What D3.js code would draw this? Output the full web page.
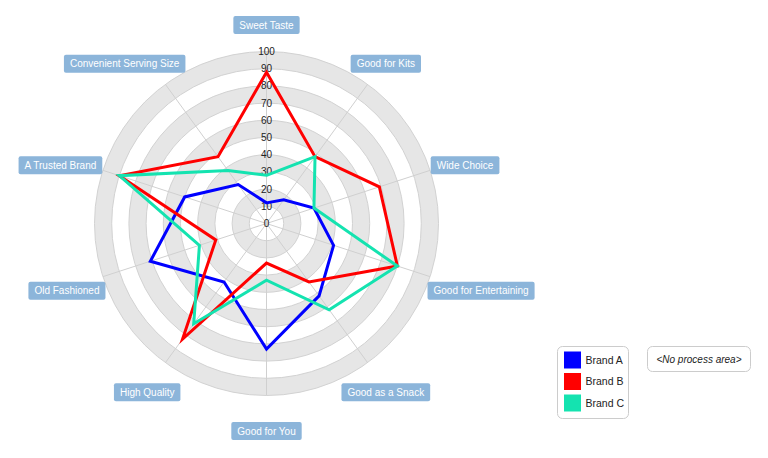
<!DOCTYPE html>
<html>
<head>
<meta charset="utf-8">
<script src="https://cdn.jsdelivr.net/npm/d3@7"></script>
<style>
  body { margin: 0; background: #fff; }
  text { font-family: "Liberation Sans", Arial, sans-serif; }
</style>
</head>
<body>
<div id="chart"></div>
<script>
// Datos del radar
var categorias = ["Sweet Taste", "Good for Kits", "Wide Choice", "Good for Entertaining", "Good as a Snack",
                  "Good for You", "High Quality", "Old Fashioned", "A Trusted Brand", "Convenient Serving Size"];
var marcas = ["Brand A", "Brand B", "Brand C"];
var brandA = [12, 17, 29, 41, 52, 73, 42, 71, 50, 28];
var brandB = [88, 48, 69, 80, 42, 23, 83, 31, 90, 48];
var brandC = [28, 48, 29, 80, 62, 33, 72, 41, 90, 38];
var ticks = [0, 10, 20, 30, 40, 50, 60, 70, 80, 90, 100];

var series = [brandA, brandB, brandC];

var width = 768, height = 458;
var cx = 266.5, cy = 223.5;
var radio = 172;

var svg = d3.select("#chart")
            .append("svg")
            .attr("width", width)
            .attr("height", height);

// Escalas
var rScale = d3.scaleLinear().domain([0, 100]).range([0, radio]);
var aScale = d3.scaleLinear().domain([0, categorias.length]).range([0, 2 * Math.PI]);
var color = d3.scaleOrdinal().domain(marcas).range(["#0000ff", "#ff0000", "#14e3b0"]);

var g = svg.append("g").attr("transform", "translate(" + cx + "," + cy + ")");

// Bandas concéntricas (de fuera hacia dentro)
var anillos = ticks.slice(1).reverse();
g.selectAll(".anillo")
    .data(anillos)
    .enter().append("circle")
    .attr("class", "anillo")
    .attr("r", function(d) { return rScale(d); })
    .attr("fill", function(d) { return (d / 10) % 2 === 0 ? "#e6e6e6" : "#ffffff"; })
    .attr("stroke", "#d2d2d2")
    .attr("stroke-width", 1);

// Ejes radiales
g.selectAll(".eje")
    .data(categorias)
    .enter().append("line")
    .attr("class", "eje")
    .attr("x1", 0).attr("y1", 0)
    .attr("x2", function(d, i) { return rScale(100) * Math.sin(aScale(i)); })
    .attr("y2", function(d, i) { return -rScale(100) * Math.cos(aScale(i)); })
    .attr("stroke", "#d0d0d0")
    .attr("stroke-width", 1);

// Etiquetas de la escala
g.selectAll(".tick")
    .data(ticks)
    .enter().append("text")
    .attr("class", "tick")
    .attr("x", 0)
    .attr("y", function(d) { return -rScale(d); })
    .attr("dy", "0.35em")
    .attr("text-anchor", "middle")
    .style("font-size", "10px")
    .style("fill", "#222")
    .text(function(d) { return d; });

// Líneas de cada marca
var linea = d3.lineRadial()
    .angle(function(d, i) { return aScale(i); })
    .radius(function(d) { return rScale(d); })
    .curve(d3.curveLinearClosed);

g.selectAll(".serie")
    .data(series)
    .enter().append("path")
    .attr("class", "serie")
    .attr("d", linea)
    .attr("fill", "none")
    .attr("stroke", function(d, i) { return color(marcas[i]); })
    .attr("stroke-width", 3)
    .attr("stroke-linejoin", "miter");

// Etiquetas de categorías con caja azul
var rLabel = 203;
categorias.forEach(function(c, i) {
    var a = aScale(i);
    var sx = Math.sin(a), sy = -Math.cos(a);
    var lg = g.append("g");
    var t = lg.append("text")
        .attr("text-anchor", "middle")
        .attr("dy", "0.35em")
        .style("font-size", "10px")
        .style("fill", "#fff")
        .text(c);
    var w = t.node().getComputedTextLength() + 12;
    var h = 18;
    var bx = rLabel * sx;
    var by = rLabel * sy + 4.5;
    // empujar la caja hacia fuera si toca el círculo
    if (Math.abs(sx) > 0.01) {
        for (var k = 0; k < 200; k++) {
            var nx = Math.max(bx - w / 2, Math.min(0, bx + w / 2));
            var ny = Math.max(by - h / 2, Math.min(0, by + h / 2));
            if (Math.sqrt(nx * nx + ny * ny) >= radio - 1) break;
            bx += sx > 0 ? 0.5 : -0.5;
        }
    }
    lg.insert("rect", "text")
        .attr("x", bx - w / 2)
        .attr("y", by - h / 2)
        .attr("width", w)
        .attr("height", h)
        .attr("rx", 2)
        .attr("fill", "#8cb5da");
    t.attr("x", bx).attr("y", by);
});

// Leyenda
var leyenda = svg.append("g").attr("transform", "translate(557.5,346.5)");
leyenda.append("rect")
    .attr("width", 71).attr("height", 72)
    .attr("rx", 5)
    .attr("fill", "#fff")
    .attr("stroke", "#cccccc");
marcas.forEach(function(m, i) {
    leyenda.append("rect")
        .attr("x", 6.5).attr("y", 5 + i * 21.5)
        .attr("width", 17).attr("height", 17)
        .attr("fill", color(m));
    leyenda.append("text")
        .attr("x", 28).attr("y", 13.5 + i * 21.5)
        .attr("dy", "0.35em")
        .style("font-size", "10.5px")
        .style("fill", "#222")
        .text(m);
});

// Caja "No process area"
var caja = svg.append("g").attr("transform", "translate(647.5,346.5)");
caja.append("rect")
    .attr("width", 103).attr("height", 25)
    .attr("rx", 5)
    .attr("fill", "#fff")
    .attr("stroke", "#cccccc");
caja.append("text")
    .attr("x", 51.5).attr("y", 12.5)
    .attr("dy", "0.35em")
    .attr("text-anchor", "middle")
    .style("font-size", "10px")
    .style("font-style", "italic")
    .style("fill", "#222")
    .text("<No process area>");
</script>
</body>
</html>
